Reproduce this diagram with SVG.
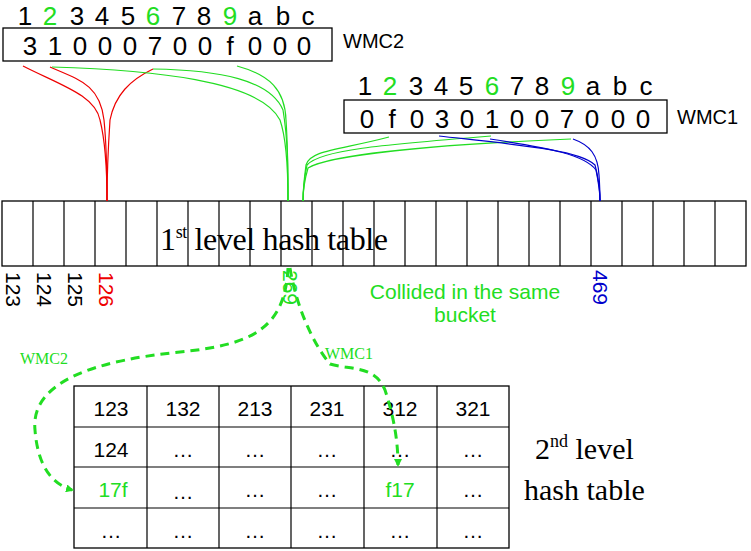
<svg xmlns="http://www.w3.org/2000/svg" width="751" height="551" viewBox="0 0 751 551">
<style>
.a{font-family:"Liberation Sans",Arial,sans-serif;text-anchor:middle}
.d{font-size:26px}
.g{fill:#22dd22}
.s{font-family:"Liberation Serif","Times New Roman",serif}
.box{fill:none;stroke:#000;stroke-width:1.3}
.c{fill:none;stroke-width:1.2}
.dash{fill:none;stroke:#22dd22;stroke-width:3;stroke-dasharray:9,6}
</style>
<defs><marker id="ah" markerWidth="8" markerHeight="8" refX="6" refY="4" orient="auto" markerUnits="userSpaceOnUse"><path d="M0,0L8,4L0,8z" fill="#22dd22"/></marker></defs>
<rect width="751" height="551" fill="#fff"/>
<g id="wmc2">
<rect class="box" x="3" y="28" width="329" height="33"/>
<g class="a d">
<text x="25" y="25">1</text><text x="50" y="25" class="g">2</text><text x="77" y="25">3</text><text x="102" y="25">4</text><text x="128" y="25">5</text><text x="153" y="25" class="g">6</text><text x="179" y="25">7</text><text x="204" y="25">8</text><text x="230" y="25" class="g">9</text><text x="255" y="25">a</text><text x="283" y="25">b</text><text x="308" y="25">c</text>
<text x="30" y="55">3</text><text x="55" y="55">1</text><text x="80" y="55">0</text><text x="105" y="55">0</text><text x="130" y="55">0</text><text x="155" y="55">7</text><text x="180" y="55">0</text><text x="205" y="55">0</text><text x="230" y="55">f</text><text x="255" y="55">0</text><text x="280" y="55">0</text><text x="304" y="55">0</text>
</g>
<text x="343" y="48" font-family="Liberation Sans,Arial,sans-serif" font-size="20">WMC2</text>
</g>
<g id="wmc1">
<rect class="box" x="344" y="100" width="323" height="33"/>
<g class="a d">
<text x="365" y="95">1</text><text x="390" y="95" class="g">2</text><text x="416" y="95">3</text><text x="441" y="95">4</text><text x="466" y="95">5</text><text x="492" y="95" class="g">6</text><text x="517" y="95">7</text><text x="542" y="95">8</text><text x="568" y="95" class="g">9</text><text x="593" y="95">a</text><text x="620" y="95">b</text><text x="646" y="95">c</text>
<text x="367" y="128">0</text><text x="392" y="128">f</text><text x="417" y="128">0</text><text x="442" y="128">3</text><text x="467" y="128">0</text><text x="492" y="128">1</text><text x="517" y="128">0</text><text x="542" y="128">0</text><text x="567" y="128">7</text><text x="592" y="128">0</text><text x="618" y="128">0</text><text x="643" y="128">0</text>
</g>
<text x="677" y="124" font-family="Liberation Sans,Arial,sans-serif" font-size="20">WMC1</text>
</g>
<g id="table1">
<rect class="box" x="2" y="201" width="744" height="65"/>
<path stroke="#000" stroke-width="1.2" d="M33,201v65M64,201v65M95,201v65M126,201v65M157,201v65M188,201v65M219,201v65M250,201v65M281,201v65M312,201v65M343,201v65M374,201v65M405,201v65M436,201v65M467,201v65M498,201v65M529,201v65M560,201v65M591,201v65M622,201v65M653,201v65M684,201v65M715,201v65"/>
<text x="160" y="250" class="s" font-size="32" textLength="228">1<tspan font-size="18" dy="-12">st</tspan><tspan dy="12"> level hash table</tspan></text>
<g font-family="Liberation Sans,Arial,sans-serif" font-size="21">
<text transform="translate(6,272) rotate(90)">123</text>
<text transform="translate(37,272) rotate(90)">124</text>
<text transform="translate(68,272) rotate(90)">125</text>
<text transform="translate(99,272) rotate(90)" fill="#e00">126</text>
<text transform="translate(283,270) rotate(90)" fill="#22dd22">269</text>
<text transform="translate(593,270) rotate(90)" fill="#00c">469</text>
</g>
<text class="a g" font-size="21" x="465" y="299">Collided in the same</text>
<text class="a g" font-size="21" x="465" y="322">bucket</text>
</g>
<g id="table2">
<rect class="box" x="74" y="386" width="435" height="162"/>
<path stroke="#000" stroke-width="1.2" d="M147,386v162M219,386v162M291,386v162M364,386v162M437,386v162M74,427h435M74,467h435M74,508h435"/>
<g class="a" font-size="21">
<text x="111" y="416">123</text><text x="183" y="416">132</text><text x="255" y="416">213</text><text x="327" y="416">231</text><text x="400" y="416">312</text><text x="473" y="416">321</text>
<text x="111" y="457">124</text><text x="183" y="457">…</text><text x="255" y="457">…</text><text x="327" y="457">…</text><text x="400" y="457">…</text><text x="473" y="457">…</text>
<text x="113" y="497" class="g">17f</text><text x="183" y="499">…</text><text x="255" y="497">…</text><text x="327" y="497">…</text><text x="400" y="497" class="g">f17</text><text x="473" y="497">…</text>
<text x="111" y="538">…</text><text x="183" y="538">…</text><text x="255" y="538">…</text><text x="327" y="538">…</text><text x="400" y="538">…</text><text x="473" y="538">…</text>
</g>
<text x="535" y="459" class="s" font-size="30">2<tspan font-size="18" dy="-12">nd</tspan><tspan dy="12"> level</tspan></text>
<text x="524" y="500" class="s" font-size="30">hash table</text>
</g>
<g id="connectors">
<g class="c" stroke="#e00">
<path d="M23,66C60,85 95,95 100,120C105,140 107,170 107,201"/>
<path d="M50,67C80,80 100,85 104,120C107,150 107,180 107,201"/>
<path d="M153,69C130,80 115,95 110,120C108,150 107,180 107,201"/>
</g>
<g class="c" stroke="#22dd22">
<path d="M52,67C150,70 260,80 280,120C287,140 288,170 288,201"/>
<path d="M153,69C220,70 270,80 283,110C288,140 288,170 288,201"/>
<path d="M237,66C270,75 285,90 286,120C288,150 288,180 288,201"/>
<path d="M389,137C340,150 310,150 306,165C304,180 303,190 303,201"/>
<path d="M491,136C380,145 320,150 307,165C304,180 303,190 303,201"/>
<path d="M571,139C430,145 330,155 308,168C304,182 303,192 303,201"/>
</g>
<g class="c" stroke="#00c">
<path d="M439,136C520,145 580,150 595,165C599,180 600,190 600,201"/>
<path d="M490,139C550,148 585,155 596,170C599,185 600,195 600,201"/>
<path d="M573,139C590,145 598,155 599,175C600,190 600,195 600,201"/>
</g>
<path class="dash" marker-end="url(#ah)" d="M288,268C285,330 250,345 180,352C100,360 30,380 35,430C38,470 55,485 72,490"/>
<path class="dash" marker-end="url(#ah)" d="M290,268C295,300 310,340 330,364C350,370 375,365 385,390C395,420 398,445 398,465"/>
<text x="20" y="364" class="s g" font-size="16">WMC2</text>
<text x="325" y="359" class="s g" font-size="16">WMC1</text>
</g>
</svg>
